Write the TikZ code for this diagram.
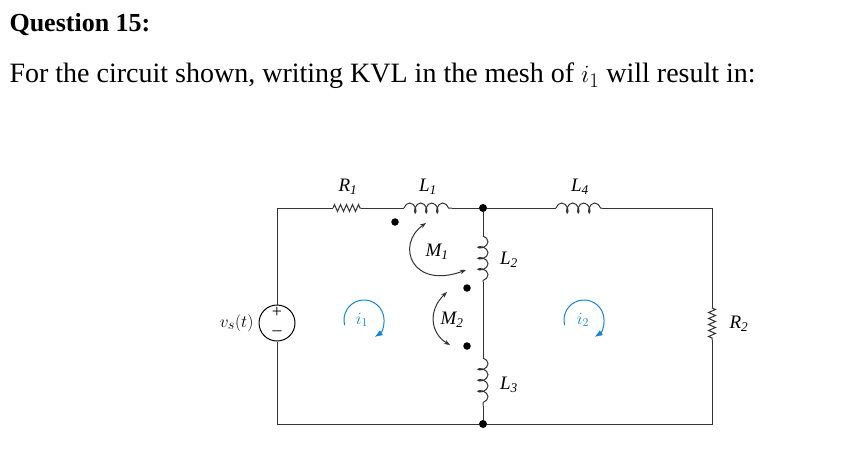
\documentclass[tikz,border=0pt]{standalone}
\usepackage{fontspec}
\setmainfont{Liberation Serif}
\usetikzlibrary{decorations.pathmorphing,arrows.meta}
\begin{document}
\begin{tikzpicture}[x=1pt,y=-1pt,
 w/.style={line width=1pt,black!80},
 dot/.style={circle,fill=black,inner sep=0pt,minimum size=7.5pt},
 lab/.style={font=\itshape\fontsize{19}{19}\selectfont},
 res/.style={decorate,decoration={zigzag,segment length=6pt,amplitude=3.5pt}},
 ind/.style={decorate,decoration={coil,aspect=0.6,segment length=11pt,amplitude=5pt}},
 cur/.style={cyan!70!blue,line width=1pt,-{Latex[length=8pt]}}]
\useasboundingbox (0,0) rectangle (866,453);
\node[anchor=west,font=\bfseries\fontsize{26}{26}\selectfont] (q) at (6,25) {Question 15:};
\node[anchor=west,font=\fontsize{28}{28}\selectfont] (t) at (6,76) {For the circuit shown, writing KVL in the mesh of $i_1$ will result in:};
\coordinate (tl) at (277,208); \coordinate (bl) at (277,424);
\coordinate (tr) at (712,208); \coordinate (br) at (712,424);
\node[dot,minimum size=8pt] (nt) at (483,208) {};
\node[dot,minimum size=8pt] (nb) at (483,424) {};
\node[circle,draw,line width=1pt,minimum size=36pt,inner sep=0pt] (vs) at (277,323) {};
\node[font=\fontsize{18}{18}\selectfont] at (277,312) {+};
\node[font=\fontsize{18}{18}\selectfont] at (277,333) {--};
\node[lab,anchor=east] (vl) at (257,323) {$v_s(t)$};
\draw[w] (vs.north) -- (tl) -- (333,208);
\draw[w,res] (333,208) -- (361,208);
\draw[w] (361,208) -- (404,208);
\draw[w,ind] (404,208) -- (452,208);
\draw[w] (452,208) -- (nt) -- (556,208);
\draw[w,ind] (556,208) -- (602,208);
\draw[w] (602,208) -- (tr) -- (712,308);
\draw[w,res] (712,308) -- (712,340);
\draw[w] (712,340) -- (br) -- (nb) -- (bl) -- (vs.south);
\draw[w] (nt) -- (483,236);
\draw[w,ind] (483,236) -- (483,282);
\draw[w] (483,282) -- (483,358);
\draw[w,ind] (483,358) -- (483,406);
\draw[w] (483,406) -- (nb);
\node[lab] at (348,187) {R\textsubscript{1}};
\node[lab] at (428,187) {L\textsubscript{1}};
\node[lab] at (580,187) {L\textsubscript{4}};
\node[lab] at (509,260) {L\textsubscript{2}};
\node[lab] at (509,385) {L\textsubscript{3}};
\node[lab] at (739,324) {R\textsubscript{2}};
\node[dot] (d1) at (395,222) {};
\node[dot] (d2) at (467,288) {};
\node[dot] (d3) at (467,346) {};
\draw[w,{Stealth[length=6pt]}-{Stealth[length=6pt]}] (426,223) .. controls (395,245) and (412,290) .. (466,270);
\node[lab] at (437,252) {M\textsubscript{1}};
\draw[w,{Stealth[length=6pt]}-{Stealth[length=6pt]}] (447,292) .. controls (428,310) and (430,333) .. (450,345);
\node[lab] at (452,320) {M\textsubscript{2}};
\draw[cur] (364,320) ++(165:20) arc[start angle=165,end angle=418,radius=20];
\node[font=\itshape\fontsize{17}{17}\selectfont,cyan!70!blue] at (362,320) {$i_1$};
\draw[cur] (584,320) ++(165:20) arc[start angle=165,end angle=418,radius=20];
\node[font=\itshape\fontsize{17}{17}\selectfont,cyan!70!blue] at (583,320) {$i_2$};
\end{tikzpicture}
\end{document}
